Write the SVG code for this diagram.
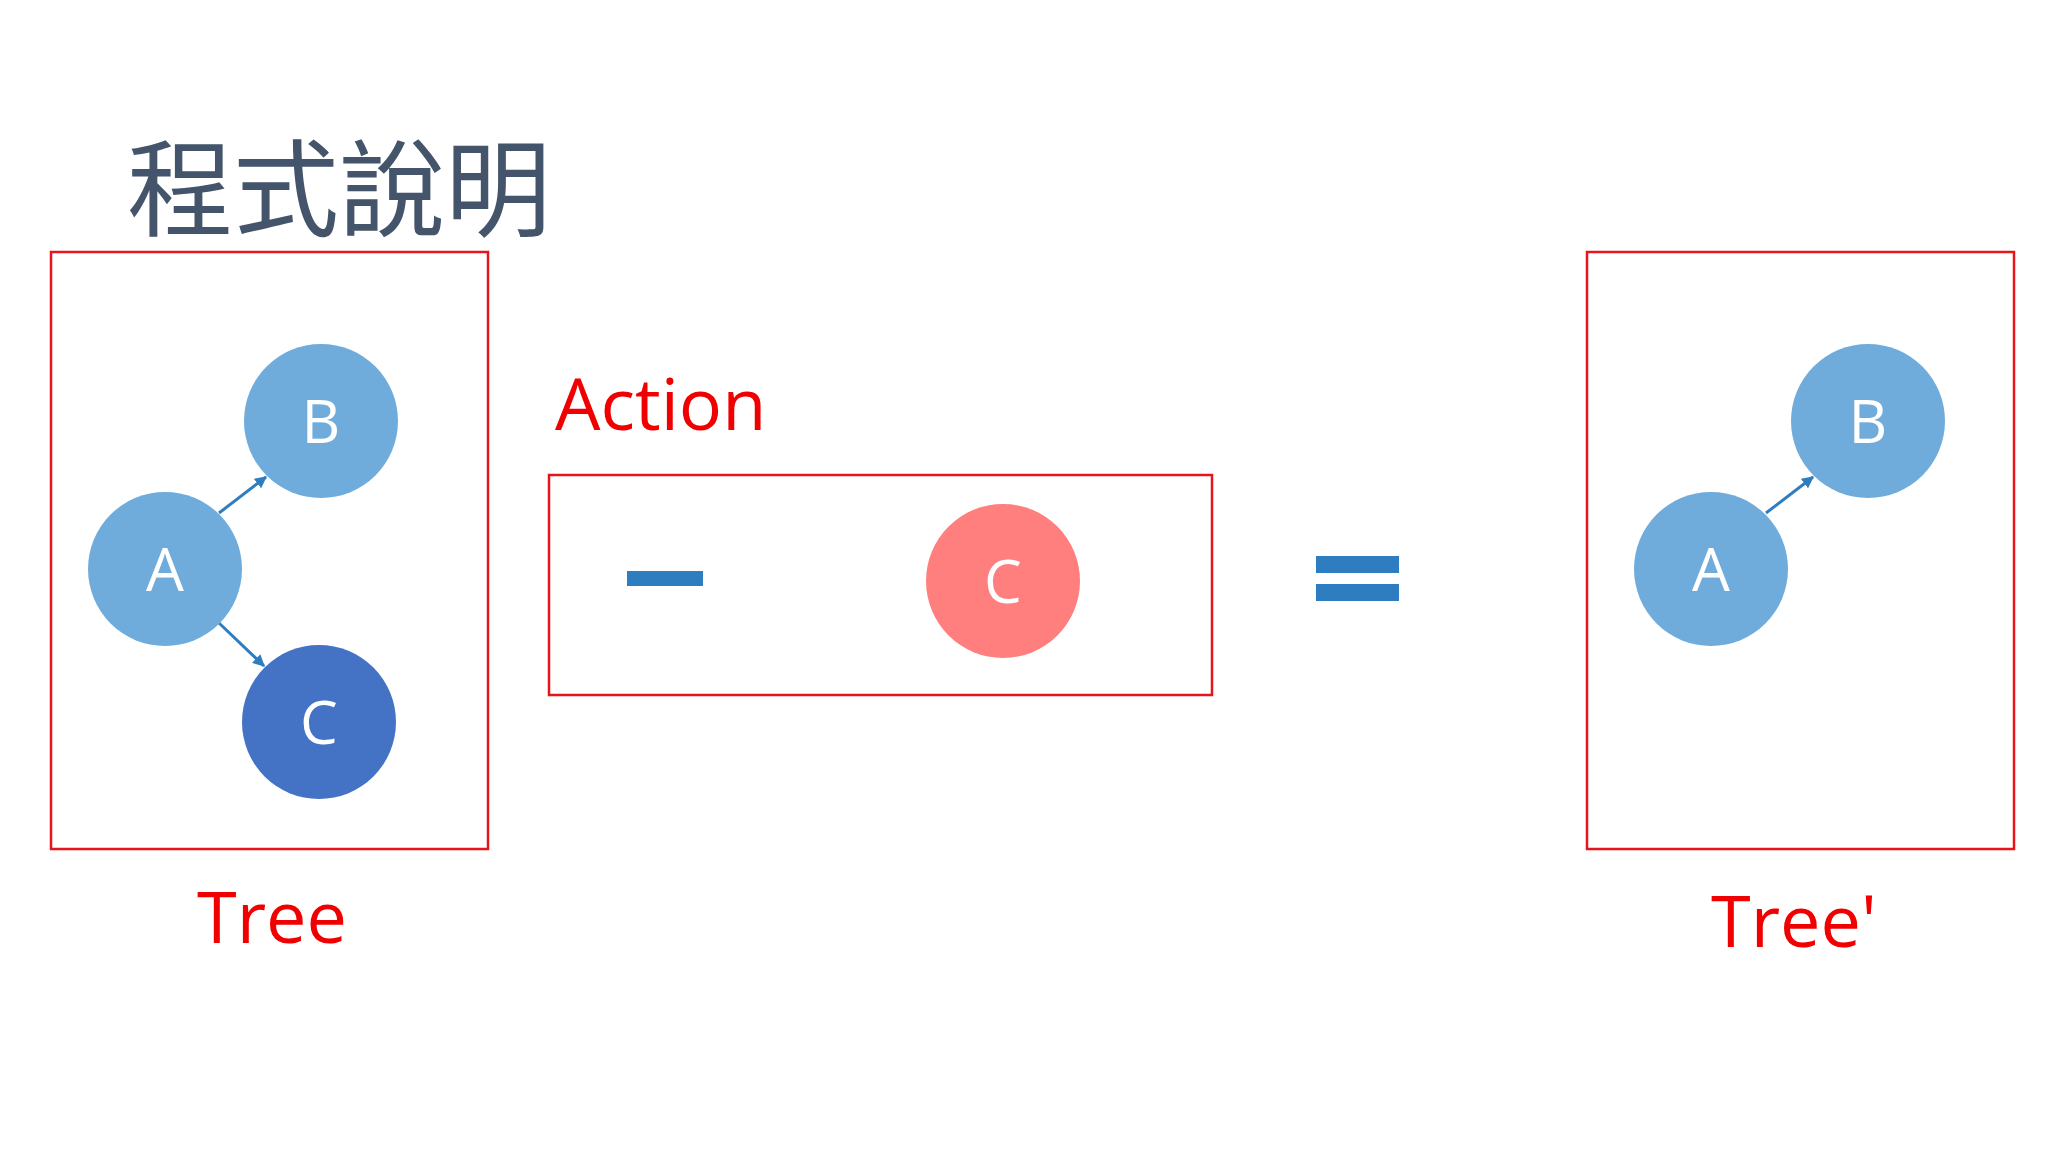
<svg xmlns="http://www.w3.org/2000/svg" width="2048" height="1152" viewBox="0 0 2048 1152">
<defs>
<style>
.box{fill:none;stroke:#E8141B;stroke-width:2.5}
.lbl{font-family:"Open Sans","Noto Sans",sans-serif;fill:#F00000;font-size:72px}
.nt{font-family:"Open Sans","Noto Sans",sans-serif;fill:#fff;font-size:60px;text-anchor:middle}
.lb{fill:#6FACDC}
.edge{stroke:#2E7DC0;stroke-width:3;fill:none;marker-end:url(#ah)}
</style>
<marker id="ah" viewBox="0 0 10 10" refX="9" refY="5" markerWidth="4" markerHeight="4" orient="auto"><path d="M0,0L10,5L0,10z" fill="#2E7DC0"/></marker>
</defs>
<rect width="2048" height="1152" fill="#fff"/>
<text x="127" y="228" font-family="'Noto Sans CJK TC',sans-serif" font-size="106" fill="#44546A">程式說明</text>
<g id="tree"><rect class="box" x="51" y="252" width="437" height="597"/><text class="lbl" x="197" y="943">Tree</text></g>
<g id="connectors">
<line class="edge" x1="219" y1="513" x2="266" y2="477"/>
<line class="edge" x1="219" y1="623" x2="264" y2="666"/>
<line class="edge" x1="1766" y1="513" x2="1813" y2="477"/>
</g>
<g id="B1"><circle class="lb" cx="321" cy="421" r="77"/><text class="nt" x="321" y="443">B</text></g>
<g id="A1"><circle class="lb" cx="165" cy="569" r="77"/><text class="nt" x="165" y="591">A</text></g>
<g id="C1"><circle fill="#4472C4" cx="319" cy="722" r="77"/><text class="nt" x="319" y="744">C</text></g>
<g id="action"><text class="lbl" x="555" y="430">Action</text><rect class="box" x="549" y="475" width="663" height="220"/>
<rect x="627" y="571" width="76" height="15" fill="#2E7DC0"/>
<circle fill="#FF7F7F" cx="1003" cy="581" r="77"/><text class="nt" x="1003" y="603">C</text></g>
<g id="eq"><rect x="1316" y="556" width="83" height="17" fill="#2E7DC0"/><rect x="1316" y="584" width="83" height="17" fill="#2E7DC0"/></g>
<g id="tree2"><rect class="box" x="1587" y="252" width="427" height="597"/><text class="lbl" x="1711" y="947">Tree'</text></g>
<g id="B2"><circle class="lb" cx="1868" cy="421" r="77"/><text class="nt" x="1868" y="443">B</text></g>
<g id="A2"><circle class="lb" cx="1711" cy="569" r="77"/><text class="nt" x="1711" y="591">A</text></g>
</svg>
